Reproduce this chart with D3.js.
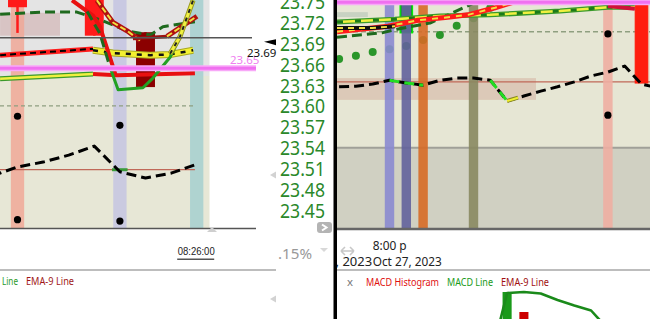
<!DOCTYPE html>
<html><head><meta charset="utf-8">
<script src="https://cdn.jsdelivr.net/npm/d3@7"></script>
<style>
html,body{margin:0;padding:0;background:#fff;overflow:hidden}
svg{display:block;font-family:"Noto Sans","Open Sans",sans-serif}
</style></head><body>
<svg id="c" width="650" height="319"></svg>
<script>
// ================= DATA =================
const priceTicks = [23.45,23.48,23.51,23.54,23.57,23.60,23.63,23.66,23.69,23.72,23.75];
const tickLabels = priceTicks.map(d => d.toFixed(2));
const alertLevel = 23.654, alertLabel = "23.65";
const lastLevel = 23.698, lastLabel = "23.69";
const midLevel = 23.600;
const refLevel = 23.508;
const grayZoneBottom = 23.643;
const darkZoneTop = 23.387;
const leftTimeTick = 7, leftTimeLabel = "08:26:00";
const rightTimeTick = -1, rightTimeLabel = "8:00 p", rightDateLabel = "Oct 27, 2023", prevDateLabel = "Oct 26, 2023";
const pctLabel = ".15%";
const legendLeft = ["Line", "EMA-9 Line"];
const legendRight = ["x", "MACD Histogram", "MACD Line", "EMA-9 Line"];

// ---- left panel (bar index, price) ----
const leftPriceIdx = [-1,0,1,2,3,4,5,6,7];
const leftPrice    = [23.499,23.512,23.519,23.529,23.542,23.505,23.496,23.503,23.516];
const leftBandIdx = [0,4,7];
const leftBandColor = ["#f0a898","#c4c4e2","#a4cfcf"];
const leftCandleIdx = [0,3,5];
const leftCandleOpen = [23.760,23.760,23.706];
const leftCandleClose = [23.742,23.701,23.627];
const leftCandleLow = [23.705,23.701,23.627];
const leftCandleColor = ["#ff1a1a","#ff1a1a","#8b0000"];
const leftDotIdx = [0,0,4,4];
const leftDotPrice = [23.585,23.436,23.572,23.434];
const leftZoneIdx = [-0.68,1.66], leftZonePrice = [23.734,23.701];
const leftMarkIdx = [3.69,4.3], leftMarkPrice = [23.508,23.508];

const lA_idx = [-0.68,1,2.32,3.22,4.28,5.18,5.68,6.93];
const lA_val = [23.732,23.735,23.735,23.724,23.708,23.702,23.714,23.721];
const lB_idx = [-0.68,2.95], lB_val = [23.673,23.682];
const lC_idx = [2.95,3.73,5.18,5.96,6.86], lC_val = [23.680,23.676,23.673,23.674,23.680];
const lD_idx = [2.95,3.89,6.93], lD_val = [23.646,23.644,23.647];
const lE_idx = [-0.68,2.95], lE_val = [23.639,23.646];
const lF_idx = [3.61,3.93,4.9,5.29,5.96,6.35,6.86], lF_val = [23.656,23.623,23.626,23.640,23.670,23.699,23.752];
const lF2_idx = [2.72,3.22,3.61], lF2_val = [23.736,23.704,23.656];
const lG_idx = [2.13,2.95,3.22,3.61,3.85], lG_val = [23.752,23.730,23.714,23.670,23.642];
const lH_idx = [3.1,3.73,4.28,4.79], lH_val = [23.752,23.720,23.708,23.694];
const lH2_idx = [4.51,5.84], lH2_val = [23.697,23.700];
const lH3_idx = [5.84,7.01], lH3_val = [23.700,23.729];
const lI_idx = [5.96,6.35,6.86], lI_val = [23.675,23.700,23.752];

// ---- right panel ----
const rightPriceIdx = [-3,-2,-1,0,1,2,3,4,5,6,7,8,9,10,11,12,13,14,15,16];
const rightPrice = [23.499,23.500,23.504,23.511,23.506,23.502,23.511,23.515,23.515,23.511,23.473,23.482,23.491,23.499,23.508,23.519,23.526,23.537,23.504,23.497];
const greenSegA = [0,2], greenSegB = [6,7];
const yellowSegIdx = [7,7.65], yellowSegVal = [23.473,23.479];
const rightBandIdx = [0,1,2,5,13];
const rightBandColor = ["#8a8ad0","#62629c","#d66a26","#888860","#eeaea2"];
const rightCandleIdx = [1,15];
const rightCandleOpen = [23.658,23.660];
const rightCandleClose = [23.598,23.506];
const rightCandleFill = ["#149a2e","#ff1e0e"];
const rightCandleStroke = ["#00ee00","#ff1e0e"];
const rightDotIdx = [13,13], rightDotPrice = [23.596,23.447];
const greenDotIdx = [-3,-2,-1,0,1,2,3,4,5,6];
const greenDotVal = [23.550,23.556,23.563,23.568,23.574,23.585,23.594,23.611,23.625,23.644];
const rightZoneIdx = [-3.125,8.72], rightZonePrice = [23.515,23.475];
const rightZone2Idx = [-3.125,-1.29], rightZone2Price = [23.636,23.627];

const r1_idx = [-3.125,0.33,3.0,5.98,10.15,13.0,14.6], r1_val = [23.618,23.623,23.629,23.631,23.638,23.645,23.645];
const r2_idx = [-3.125,-0.09,1.7,3.6,4.67,6.28,7.77], r2_val = [23.600,23.610,23.621,23.627,23.631,23.644,23.658];
const r3_idx = [-3.125,-1.04,0.33], r3_val = [23.607,23.607,23.610];
const r4_idx = [-3.125,-0.45,0.51,2.41,4.32,5.39], r4_val = [23.590,23.598,23.605,23.616,23.643,23.658];
const r5_idx = [13.0,14.6], r5_val = [23.647,23.642];

// ---- MACD ----
const macdIdx = [6,7,8,9,10,11,12,13];
const macdLine = [-0.008,0.0188,0.0192,0.0186,0.016,0.0138,0.0118,0.0044];
const histIdx = [7,8];
const histVal = [0.0192,0.0112];
const histColor = ["#1a9a1a","#cc0000"];

// ================= SCALES =================
const svg = d3.select("#c");
const xL = d3.scaleLinear().domain([0,7]).range([17.5,196.7]);
const yL = d3.scaleLinear().domain([23.45,23.72]).range([210,22.5]);
const xR = d3.scaleLinear().domain([0,13]).range([389.5,607.9]);
const yR = d3.scaleLinear().domain([23.65,23.50]).range([4.5,86.25]);
const yM = d3.scaleLinear().domain([0,0.02]).range([340,290]);
const stepL = xL(1)-xL(0), stepR = xR(1)-xR(0);

const defs = svg.append("defs");
defs.append("clipPath").attr("id","clipL").append("rect").attr("x",0).attr("y",0).attr("width",257).attr("height",228);
defs.append("clipPath").attr("id","clipR").append("rect").attr("x",337).attr("y",0).attr("width",313).attr("height",228);
defs.append("clipPath").attr("id","clipRA").append("rect").attr("x",337).attr("y",228).attr("width",313).attr("height",45);
defs.append("clipPath").attr("id","clipM").append("rect").attr("x",337).attr("y",274).attr("width",313).attr("height",45);

const zip = (a,b) => a.map((d,k)=>[d,b[k]]);
function drawLine(g, xs, ys, idx, vals, layers){
  const gen = d3.line().x(d=>xs(d[0])).y(d=>ys(d[1]));
  const pts = zip(idx, vals);
  layers.forEach(L=>{
    g.append("path").attr("d",gen(pts)).attr("fill","none")
      .attr("stroke",L.c).attr("stroke-width",L.w)
      .attr("stroke-dasharray",L.d||null).attr("stroke-linejoin","round")
      .attr("stroke-linecap","butt").attr("opacity",L.o||1);
  });
}
const STY = {
  redBlack:[{c:"#ff1c1c",w:5},{c:"#000",w:2,d:"6,4"}],
  yellowBlack:[{c:"#a8a820",w:7},{c:"#f4f030",w:5},{c:"#111",w:2.5,d:"5,6"}],
  red:[{c:"#e81010",w:4}],
  yellowGreen:[{c:"#3a9a2a",w:5},{c:"#f0f040",w:2.5}],
  yellowGreenDash:[{c:"#3a9a2a",w:5},{c:"#f0f040",w:2.5},{c:"#1a7a1a",w:3,d:"6,12"}],
  green:[{c:"#22a022",w:3}],
  greenDashDark:[{c:"#1e6a1e",w:3,d:"10,5"}],
  yellowRed:[{c:"#b01010",w:5},{c:"#f0e040",w:2,d:"6,3"}],
  redYellow:[{c:"#ff1a1a",w:5},{c:"#f0e040",w:2,d:"6,6"}],
  blackYellow:[{c:"#111",w:4},{c:"#f0e040",w:2,d:"6,5"}],
  darkRed:[{c:"#9a1010",w:3.5}],
  magentaRed:[{c:"#d0103a",w:4}],
  yellowDash:[{c:"#9a9a20",w:5},{c:"#f0f040",w:3},{c:"#222",w:2,d:"4,5"}],
  price:[{c:"#000",w:3,d:"10,5"}],
  priceGreen:[{c:"#22dd22",w:3,d:"10,5"}],
  priceYellow:[{c:"#8a8a20",w:4},{c:"#f0f030",w:2}]
};

// ================= LEFT PANEL =================
const gL = svg.append("g").attr("clip-path","url(#clipL)");
const plotRightL = xL(7)+stepL/2;
gL.append("rect").attr("x",0).attr("y",0).attr("width",plotRightL).attr("height",yL(grayZoneBottom)).attr("fill","#e4e4e4");
gL.append("rect").attr("x",0).attr("y",yL(grayZoneBottom)).attr("width",plotRightL).attr("height",228-yL(grayZoneBottom)).attr("fill","#e7e7d6");
gL.append("rect").attr("x",xL(leftZoneIdx[0])).attr("y",yL(leftZonePrice[0]))
  .attr("width",xL(leftZoneIdx[1])-xL(leftZoneIdx[0])).attr("height",yL(leftZonePrice[1])-yL(leftZonePrice[0]))
  .attr("fill","#d8c4c4");
leftBandIdx.forEach((b,k)=>{
  gL.append("rect").attr("x",xL(b)-stepL*0.26).attr("y",0).attr("width",stepL*0.52).attr("height",228)
    .attr("fill",leftBandColor[k]).attr("opacity",0.85);
});
gL.append("line").attr("x1",0).attr("x2",xL(6.93)).attr("y1",yL(midLevel)).attr("y2",yL(midLevel))
  .attr("stroke","#8f9f80").attr("stroke-width",1.3).attr("stroke-dasharray","4,3");
gL.append("line").attr("x1",0).attr("x2",xL(6.93)).attr("y1",yL(refLevel)).attr("y2",yL(refLevel))
  .attr("stroke","#c06858").attr("stroke-width",1.2);
leftCandleIdx.forEach((c,k)=>{
  const x = xL(c);
  gL.append("line").attr("x1",x).attr("x2",x).attr("y1",yL(leftCandleOpen[k])).attr("y2",yL(leftCandleLow[k]))
    .attr("stroke",leftCandleColor[k]).attr("stroke-width",2.5);
  const y0 = yL(leftCandleOpen[k]), y1 = yL(leftCandleClose[k]);
  gL.append("rect").attr("x",x-stepL*0.37).attr("y",Math.min(y0,y1)).attr("width",stepL*0.74)
    .attr("height",Math.abs(y1-y0)).attr("fill",leftCandleColor[k]);
});
drawLine(gL,xL,yL,lA_idx,lA_val,STY.greenDashDark);
drawLine(gL,xL,yL,lE_idx,lE_val,STY.yellowGreen);
drawLine(gL,xL,yL,lD_idx,lD_val,STY.red);
drawLine(gL,xL,yL,lB_idx,lB_val,STY.redBlack);
drawLine(gL,xL,yL,lC_idx,lC_val,STY.yellowBlack);
drawLine(gL,xL,yL,lG_idx,lG_val,STY.red);
drawLine(gL,xL,yL,lF2_idx,lF2_val,STY.greenDashDark);
drawLine(gL,xL,yL,lH_idx,lH_val,STY.yellowRed);
drawLine(gL,xL,yL,lH2_idx,lH2_val,STY.darkRed);
drawLine(gL,xL,yL,lH3_idx,lH3_val,STY.yellowRed);
drawLine(gL,xL,yL,lF_idx,lF_val,STY.green);
drawLine(gL,xL,yL,lI_idx,lI_val,STY.yellowDash);
drawLine(gL,xL,yL,leftMarkIdx,leftMarkPrice,[{c:"#3a9a3a",w:3}]);
drawLine(gL,xL,yL,leftPriceIdx,leftPrice,STY.price);
leftDotIdx.forEach((d,k)=>{
  gL.append("circle").attr("cx",xL(d)).attr("cy",yL(leftDotPrice[k])).attr("r",3.6).attr("fill","#000");
});
svg.append("line").attr("x1",0).attr("x2",252).attr("y1",yL(lastLevel)).attr("y2",yL(lastLevel))
  .attr("stroke","#555").attr("stroke-width",1.6);
svg.append("line").attr("x1",0).attr("x2",256).attr("y1",yL(alertLevel)).attr("y2",yL(alertLevel))
  .attr("stroke","#f8a8f8").attr("stroke-width",6);
svg.append("line").attr("x1",0).attr("x2",256).attr("y1",yL(alertLevel)).attr("y2",yL(alertLevel))
  .attr("stroke","#f070f0").attr("stroke-width",3);
svg.append("text").attr("x",230).attr("y",yL(alertLevel)-4.5).attr("font-size",11.5).attr("fill","#f080f0").text(alertLabel);
svg.append("text").attr("x",247).attr("y",yL(lastLevel)+19).attr("font-size",11.5).attr("fill","#111").text(lastLabel);
svg.append("line").attr("x1",0).attr("x2",256).attr("y1",228.5).attr("y2",228.5).attr("stroke","#555").attr("stroke-width",1.5);
svg.append("path").attr("d","M207,232 L212,227 L217,232 Z").attr("fill","#cfcfcf");

// ================= PRICE AXIS =================
const axis = d3.axisRight(yL).tickValues(priceTicks).tickFormat((d,k)=>tickLabels[k]).tickSize(0).tickPadding(0);
const ga = svg.append("g").attr("transform","translate(280,0)").call(axis);
ga.select(".domain").remove();
ga.selectAll("text").attr("fill","#2a882a").attr("font-size",19.5)
  .attr("font-family","'Noto Sans','Open Sans',sans-serif")
  .attr("textLength",45).attr("lengthAdjust","spacingAndGlyphs").attr("dy","0.36em");
svg.append("path").attr("d",`M264,${yL(23.69)-1.5} L276,${yL(23.69)-4} L276,${yL(23.69)+2} Z`).attr("fill","#000");
svg.append("path").attr("d","M270,175 L276,171.5 L276,178.5 Z").attr("fill","#d2d2d2");
svg.append("path").attr("d","M270,299 L276,295.5 L276,302.5 Z").attr("fill","#d2d2d2");
svg.append("rect").attr("x",317).attr("y",222).attr("width",15).attr("height",11).attr("rx",3).attr("fill","#b4b4b4");
svg.append("path").attr("d","M322,224.5 L326.5,227.5 L322,230.5").attr("fill","none").attr("stroke","#fff").attr("stroke-width",2);
svg.append("text").attr("x",278).attr("y",259).attr("font-size",15).attr("fill","#999")
  .attr("textLength",34).attr("lengthAdjust","spacingAndGlyphs").text(pctLabel);
svg.append("path").attr("d","M320,248 L328,248 L324,252 Z").attr("fill","#d8d8d8");

const tA = d3.axisBottom(xL).tickValues([leftTimeTick]).tickFormat(()=>leftTimeLabel).tickSize(0).tickPadding(0);
const gt = svg.append("g").attr("transform","translate(-1,255)").call(tA);
gt.select(".domain").remove();
gt.selectAll("text").attr("dy",0).attr("font-size",11).attr("fill","#222")
  .attr("textLength",37).attr("lengthAdjust","spacingAndGlyphs");
svg.append("line").attr("x1",xL(leftTimeTick)-19.5).attr("x2",xL(leftTimeTick)+17.5).attr("y1",259.3).attr("y2",259.3)
  .attr("stroke","#555").attr("stroke-width",1.6);
svg.append("line").attr("x1",0).attr("x2",276).attr("y1",270).attr("y2",270).attr("stroke","#bdbdbd").attr("stroke-width",2);
svg.append("line").attr("x1",337).attr("x2",650).attr("y1",270).attr("y2",270).attr("stroke","#bdbdbd").attr("stroke-width",2);
svg.append("text").attr("x",2).attr("y",285).attr("font-size",11).attr("fill","#2a9a2a")
  .attr("textLength",16).attr("lengthAdjust","spacingAndGlyphs").text(legendLeft[0]);
svg.append("text").attr("x",26).attr("y",285).attr("font-size",11).attr("fill","#a01818")
  .attr("textLength",48).attr("lengthAdjust","spacingAndGlyphs").text(legendLeft[1]);

// ================= RIGHT PANEL =================
const gR = svg.append("g").attr("clip-path","url(#clipR)");
gR.append("rect").attr("x",337).attr("y",0).attr("width",313).attr("height",yR(darkZoneTop)).attr("fill","#e6e6d4");
gR.append("rect").attr("x",337).attr("y",yR(darkZoneTop)).attr("width",313).attr("height",228-yR(darkZoneTop)).attr("fill","#d0d0c2");
gR.append("line").attr("x1",337).attr("x2",650).attr("y1",yR(darkZoneTop)).attr("y2",yR(darkZoneTop)).attr("stroke","#a0a098").attr("stroke-width",2);
gR.append("rect").attr("x",xR(rightZoneIdx[0])).attr("y",yR(rightZonePrice[0]))
  .attr("width",xR(rightZoneIdx[1])-xR(rightZoneIdx[0])).attr("height",yR(rightZonePrice[1])-yR(rightZonePrice[0]))
  .attr("fill","#d9c2b0").attr("opacity",0.8);
gR.append("rect").attr("x",xR(rightZone2Idx[0])).attr("y",yR(rightZone2Price[0]))
  .attr("width",xR(rightZone2Idx[1])-xR(rightZone2Idx[0])).attr("height",yR(rightZone2Price[1])-yR(rightZone2Price[0]))
  .attr("fill","#c8d2c2");
gR.append("line").attr("x1",337).attr("x2",650).attr("y1",yR(midLevel)).attr("y2",yR(midLevel))
  .attr("stroke","#8f9f80").attr("stroke-width",1.5).attr("stroke-dasharray","5,3");
gR.append("line").attr("x1",337).attr("x2",650).attr("y1",yR(refLevel)).attr("y2",yR(refLevel))
  .attr("stroke","#c06858").attr("stroke-width",1.2);
greenDotIdx.forEach((d,k)=>{
  gR.append("circle").attr("cx",xR(d)).attr("cy",yR(greenDotVal[k])).attr("r",4).attr("fill","#2a962a");
});
rightCandleIdx.forEach((c,k)=>{
  const y0 = yR(rightCandleOpen[k]), y1 = yR(rightCandleClose[k]);
  gR.append("rect").attr("x",xR(c)-stepR*0.37).attr("y",Math.min(y0,y1)).attr("width",stepR*0.74)
    .attr("height",Math.abs(y1-y0)).attr("fill",rightCandleFill[k]).attr("stroke",rightCandleStroke[k]).attr("stroke-width",1.2);
});
rightBandIdx.forEach((b,k)=>{
  gR.append("rect").attr("x",xR(b)-stepR*0.28).attr("y",0).attr("width",stepR*0.56).attr("height",228)
    .attr("fill",rightBandColor[k]).attr("opacity",0.9);
});
drawLine(gR,xR,yR,r4_idx,r4_val,STY.greenDashDark);
drawLine(gR,xR,yR,r1_idx,r1_val,STY.yellowGreenDash);
drawLine(gR,xR,yR,r2_idx,r2_val,STY.redYellow);
drawLine(gR,xR,yR,r3_idx,r3_val,STY.blackYellow);
drawLine(gR,xR,yR,r5_idx,r5_val,STY.magentaRed);
drawLine(gR,xR,yR,rightPriceIdx,rightPrice,STY.price);
const sel = (a,b)=>rightPriceIdx.map((d,k)=>[d,rightPrice[k]]).filter(p=>p[0]>=a&&p[0]<=b);
[greenSegA,greenSegB].forEach(s=>{
  const p = sel(s[0],s[1]);
  drawLine(gR,xR,yR,p.map(d=>d[0]),p.map(d=>d[1]),STY.priceGreen);
});
drawLine(gR,xR,yR,yellowSegIdx,yellowSegVal,STY.priceYellow);
rightDotIdx.forEach((d,k)=>{
  gR.append("circle").attr("cx",xR(d)).attr("cy",yR(rightDotPrice[k])).attr("r",3.6).attr("fill","#000");
});
gR.append("line").attr("x1",337).attr("x2",650).attr("y1",yR(alertLevel)).attr("y2",yR(alertLevel))
  .attr("stroke","#f8a8f8").attr("stroke-width",6);
gR.append("line").attr("x1",337).attr("x2",650).attr("y1",yR(alertLevel)).attr("y2",yR(alertLevel))
  .attr("stroke","#f070f0").attr("stroke-width",3);
svg.append("line").attr("x1",337).attr("x2",650).attr("y1",229).attr("y2",229).attr("stroke","#666").attr("stroke-width",2.5);

const gRA = svg.append("g").attr("clip-path","url(#clipRA)");
gRA.append("text").attr("x",xR(rightTimeTick)).attr("y",250).attr("font-size",13).attr("fill","#222")
  .attr("textLength",34).attr("lengthAdjust","spacingAndGlyphs").text(rightTimeLabel);
gRA.append("text").attr("x",xR(rightTimeTick)).attr("y",266).attr("font-size",13).attr("fill","#222")
  .attr("textLength",69).attr("lengthAdjust","spacingAndGlyphs").text(rightDateLabel);
gRA.append("text").attr("x",xR(rightTimeTick)-0.5).attr("y",266).attr("text-anchor","end").attr("font-size",13).attr("fill","#222").text(prevDateLabel);
gRA.append("path").attr("d","M341,251 L354,251 M341,251 L345,247 M341,251 L345,255 M354,251 L350,247 M354,251 L350,255")
  .attr("stroke","#c8c8c8").attr("stroke-width",1.6).attr("fill","none");

const legX = [347,366,447,501], legW = [6,73,46,48], legC = ["#777","#e01010","#1a9a1a","#a01010"];
legendRight.forEach((t,k)=>{
  svg.append("text").attr("x",legX[k]).attr("y",286).attr("font-size",11).attr("fill",legC[k])
    .attr("textLength",legW[k]).attr("lengthAdjust","spacingAndGlyphs").text(t);
});
const gM = svg.append("g").attr("clip-path","url(#clipM)");
histIdx.forEach((h,k)=>{
  gM.append("rect").attr("x",xR(h)-stepR*0.27).attr("y",yM(histVal[k])).attr("width",stepR*0.54)
    .attr("height",yM(0)-yM(histVal[k])).attr("fill",histColor[k]);
});
drawLine(gM,xR,yM,macdIdx,macdLine,[{c:"#1a8a1a",w:2.6}]);

svg.append("rect").attr("x",333.5).attr("y",0).attr("width",3.5).attr("height",319).attr("fill","#000");
</script>
</body></html>
